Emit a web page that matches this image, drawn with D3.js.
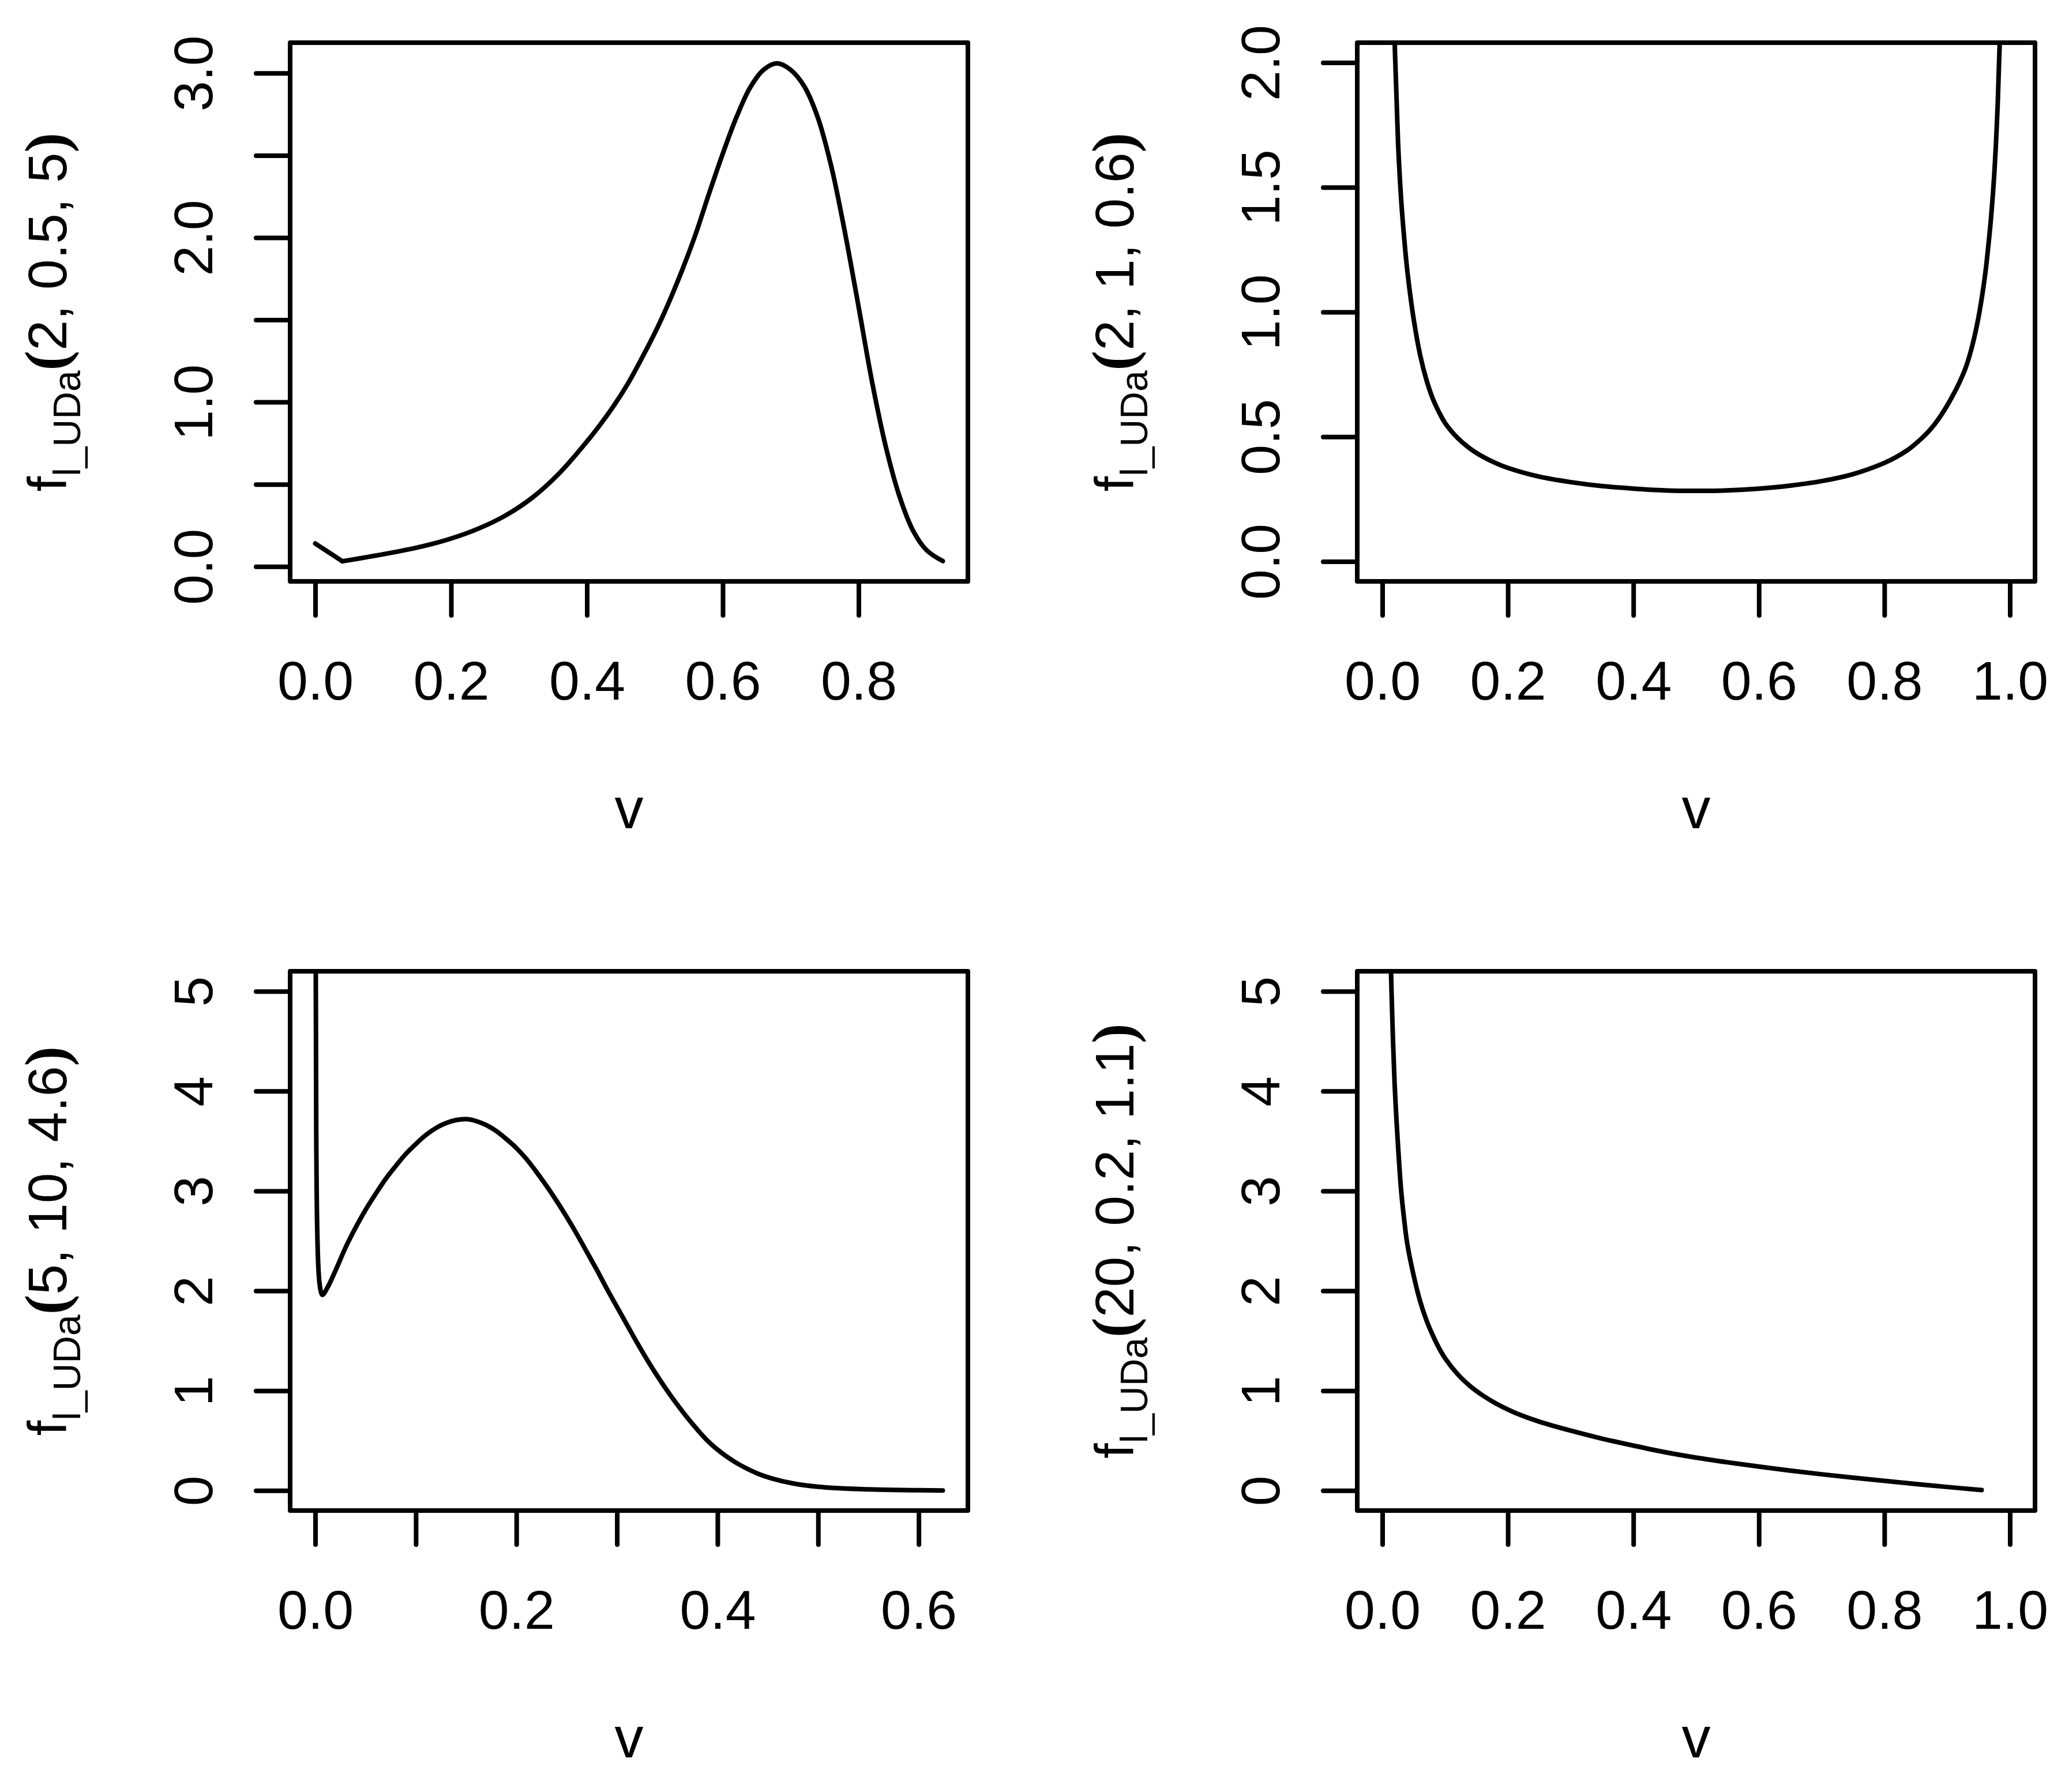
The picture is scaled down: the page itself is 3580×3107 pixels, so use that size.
<!DOCTYPE html>
<html>
<head>
<meta charset="utf-8">
<script src="https://cdn.jsdelivr.net/npm/d3@7"></script>
<style>
  html, body { margin: 0; padding: 0; background: #fff; }
  svg { display: block; }
  text { font-family: "Liberation Sans", Arial, Helvetica, sans-serif; fill: #000; }
</style>
</head>
<body>
<script>
// ---------------- data ----------------
const p1V = [0, 0.04, 0.08, 0.12, 0.16, 0.20, 0.24, 0.28, 0.32, 0.36, 0.40, 0.42, 0.44, 0.46, 0.48, 0.50, 0.52, 0.54, 0.56, 0.58, 0.60, 0.62, 0.64, 0.66, 0.68, 0.70, 0.72, 0.74, 0.76, 0.78, 0.80, 0.82, 0.84, 0.86, 0.88, 0.90, 0.924];
const p1Y = [0.14, 0.032, 0.06, 0.09, 0.125, 0.17, 0.23, 0.31, 0.42, 0.57, 0.76, 0.865, 0.98, 1.11, 1.26, 1.42, 1.60, 1.80, 2.02, 2.27, 2.51, 2.73, 2.91, 3.02, 3.06, 3.02, 2.92, 2.73, 2.43, 2.03, 1.58, 1.12, 0.73, 0.43, 0.22, 0.10, 0.033];

const p2V = [0.012, 0.016, 0.02, 0.025, 0.03, 0.035, 0.04, 0.05, 0.06, 0.07, 0.08, 0.09, 0.10, 0.12, 0.14, 0.16, 0.18, 0.20, 0.25, 0.30, 0.35, 0.40, 0.45, 0.50, 0.55, 0.60, 0.65, 0.70, 0.75, 0.80, 0.82, 0.84, 0.86, 0.87, 0.88, 0.89, 0.90, 0.91, 0.92, 0.93, 0.94, 0.95, 0.96, 0.965, 0.97, 0.975, 0.98, 0.984, 0.988];
const p2Y = [3.3, 2.55, 2.05, 1.68, 1.45, 1.29, 1.16, 0.97, 0.83, 0.73, 0.655, 0.60, 0.555, 0.495, 0.452, 0.42, 0.395, 0.375, 0.34, 0.318, 0.302, 0.292, 0.285, 0.283, 0.285, 0.292, 0.304, 0.322, 0.35, 0.395, 0.42, 0.452, 0.495, 0.52, 0.55, 0.585, 0.625, 0.67, 0.72, 0.78, 0.865, 0.98, 1.14, 1.25, 1.38, 1.55, 1.8, 2.1, 2.6];

const p3V = [0, 0.001, 0.002, 0.004, 0.007, 0.012, 0.02,
  0.03, 0.04, 0.05, 0.06, 0.07, 0.08, 0.09, 0.10, 0.11, 0.12, 0.13, 0.14, 0.15, 0.16, 0.17, 0.18, 0.19, 0.20,
  0.21, 0.22, 0.23, 0.24, 0.25, 0.26, 0.27, 0.28, 0.29, 0.30, 0.31, 0.32, 0.33, 0.34, 0.35, 0.36, 0.37, 0.38, 0.39, 0.40,
  0.42, 0.44, 0.46, 0.48, 0.50, 0.55, 0.60, 0.624];
const p3Y = [7, 3.6, 2.6, 2.1, 1.96, 2.03, 2.2,
  2.43, 2.63, 2.81, 2.97, 3.12, 3.25, 3.37, 3.47, 3.56, 3.63, 3.68, 3.71, 3.72, 3.70, 3.66, 3.60, 3.52, 3.43,
  3.32, 3.19, 3.05, 2.90, 2.74, 2.57, 2.39, 2.21, 2.02, 1.84, 1.66, 1.48, 1.31, 1.15, 1.0, 0.86, 0.73, 0.61, 0.50, 0.41,
  0.27, 0.17, 0.105, 0.063, 0.038, 0.012, 0.003, 0.001];

const p4V = [0.012, 0.0138, 0.0165, 0.0195, 0.022, 0.025, 0.03, 0.035, 0.04, 0.05, 0.06, 0.07, 0.08, 0.09, 0.10, 0.12, 0.14, 0.16, 0.18, 0.20, 0.22, 0.25, 0.30, 0.35, 0.40, 0.45, 0.50, 0.55, 0.60, 0.65, 0.70, 0.75, 0.80, 0.85, 0.90, 0.955];
const p4Y = [5.8, 5.2, 4.6, 4.08, 3.77, 3.45, 3.0, 2.7, 2.46, 2.15, 1.9, 1.71, 1.56, 1.43, 1.325, 1.165, 1.045, 0.952, 0.876, 0.812, 0.757, 0.69, 0.60, 0.52, 0.45, 0.385, 0.33, 0.283, 0.24, 0.20, 0.163, 0.129, 0.097, 0.066, 0.036, 0.005];

// data ranges (xlim / ylim before R's 4% extension)
const xRanges = [[0, 0.924], [0, 1], [0, 0.624], [0, 1]];
const yRanges = [[0.031, 3.064], [0, 2], [0, 5], [0, 5]];

// ticks and tick labels
const xTicks1 = [0, 0.2, 0.4, 0.6, 0.8];
const xTicks2 = [0, 0.2, 0.4, 0.6, 0.8, 1.0];
const xTicks3 = [0, 0.1, 0.2, 0.3, 0.4, 0.5, 0.6];
const xTickLabels1 = ["0.0", "0.2", "0.4", "0.6", "0.8"];
const xTickLabels2 = ["0.0", "0.2", "0.4", "0.6", "0.8", "1.0"];
const xTickLabels3 = ["0.0", "", "0.2", "", "0.4", "", "0.6"];
const yTicks1 = [0, 0.5, 1.0, 1.5, 2.0, 2.5, 3.0];
const yTickLabels1 = ["0.0", "", "1.0", "", "2.0", "", "3.0"];
const yTicks2 = [0, 0.5, 1.0, 1.5, 2.0];
const yTickLabels2 = ["0.0", "0.5", "1.0", "1.5", "2.0"];
const yTicks3 = [0, 1, 2, 3, 4, 5];
const yTickLabels3 = ["0", "1", "2", "3", "4", "5"];

// axis titles
const xTitle = "v";
const yFunc = "f";
const ySub = "l_UDa";
const yArgs = ["2, 0.5, 5", "2, 1, 0.6", "5, 10, 4.6", "20, 0.2, 1.1"];

// ---------------- layout ----------------
const W = 3580, H = 3107;
const boxes = [
  {l: 503, r: 1678, t: 74, b: 1008},
  {l: 2353, r: 3528, t: 74, b: 1008},
  {l: 503, r: 1678, t: 1684, b: 2619},
  {l: 2353, r: 3528, t: 1684, b: 2619}
];
const panels = [
  {v: p1V, y: p1Y, xt: xTicks1, xl: xTickLabels1, yt: yTicks1, yl: yTickLabels1, kinkFirst: true, curve: d3.curveCatmullRom.alpha(0.5)},
  {v: p2V, y: p2Y, xt: xTicks2, xl: xTickLabels2, yt: yTicks2, yl: yTickLabels2, curve: d3.curveCatmullRom.alpha(0.5)},
  {v: p3V, y: p3Y, xt: xTicks3, xl: xTickLabels3, yt: yTicks3, yl: yTickLabels3, curve: d3.curveMonotoneX},
  {v: p4V, y: p4Y, xt: xTicks2, xl: xTickLabels2, yt: yTicks3, yl: yTickLabels3, curve: d3.curveCatmullRom.alpha(0.5)}
];

const LW = 8, FS = 95, TICK = 59;

const svg = d3.select("body").append("svg")
  .attr("width", W).attr("height", H)
  .attr("viewBox", `0 0 ${W} ${H}`);
svg.append("rect").attr("width", W).attr("height", H).attr("fill", "#fff");

const ext = r => { const d = r[1] - r[0]; return [r[0] - 0.04 * d, r[1] + 0.04 * d]; };

panels.forEach((p, i) => {
  const bx = boxes[i];
  const x = d3.scaleLinear().domain(ext(xRanges[i])).range([bx.l, bx.r]);
  const y = d3.scaleLinear().domain(ext(yRanges[i])).range([bx.b, bx.t]);
  const g = svg.append("g");

  // clip for curve
  const cid = "clip" + i;
  svg.append("clipPath").attr("id", cid).append("rect")
    .attr("x", bx.l).attr("y", bx.t).attr("width", bx.r - bx.l).attr("height", bx.b - bx.t);

  const pts = p.v.map((v, k) => [v, p.y[k]]);
  const lineSmooth = d3.line().x(d => x(d[0])).y(d => y(d[1])).curve(p.curve);
  const lineStraight = d3.line().x(d => x(d[0])).y(d => y(d[1]));
  const cg = g.append("g").attr("clip-path", `url(#${cid})`)
    .attr("fill", "none").attr("stroke", "#000").attr("stroke-width", LW)
    .attr("stroke-linecap", "round").attr("stroke-linejoin", "round");
  if (p.kinkFirst) {
    cg.append("path").attr("d", lineStraight(pts.slice(0, 2)));
    cg.append("path").attr("d", lineSmooth(pts.slice(1)));
  } else {
    cg.append("path").attr("d", lineSmooth(pts));
  }

  // box
  g.append("rect").attr("x", bx.l).attr("y", bx.t)
    .attr("width", bx.r - bx.l).attr("height", bx.b - bx.t)
    .attr("fill", "none").attr("stroke", "#000").attr("stroke-width", LW)
    .attr("stroke-linejoin", "round");

  // x axis
  const xa = g.append("g").attr("transform", `translate(0,${bx.b})`)
    .call(d3.axisBottom(x).tickValues(p.xt).tickSize(TICK)
      .tickFormat((d, k) => p.xl[k]));
  xa.select(".domain").remove();
  xa.selectAll(".tick line").attr("stroke", "#000").attr("stroke-width", LW).attr("stroke-linecap", "round");
  xa.selectAll(".tick text").attr("y", 205).attr("dy", null)
    .attr("font-size", FS).attr("fill", "#000")
    .style("font-family", '"Liberation Sans", Arial, sans-serif');

  // y axis
  const ya = g.append("g").attr("transform", `translate(${bx.l},0)`)
    .call(d3.axisLeft(y).tickValues(p.yt).tickSize(TICK)
      .tickFormat((d, k) => p.yl[k]));
  ya.select(".domain").remove();
  ya.selectAll(".tick line").attr("stroke", "#000").attr("stroke-width", LW).attr("stroke-linecap", "round");
  ya.selectAll(".tick text").attr("x", null).attr("dy", null)
    .attr("transform", "translate(-135,0) rotate(-90)")
    .attr("text-anchor", "middle")
    .attr("font-size", FS).attr("fill", "#000")
    .style("font-family", '"Liberation Sans", Arial, sans-serif');

  // x title
  g.append("text").attr("x", (bx.l + bx.r) / 2).attr("y", bx.b + 428)
    .attr("text-anchor", "middle").attr("font-size", 100).text(xTitle);

  // y title: f_{l_UDa}(args)
  const yt = g.append("text")
    .attr("transform", `translate(${bx.l - 388},${(bx.t + bx.b) / 2}) rotate(-90)`)
    .attr("text-anchor", "middle").attr("font-size", FS);
  yt.append("tspan").text(yFunc);
  yt.append("tspan").attr("font-size", 66).attr("dy", 24).text(ySub);
  yt.append("tspan").attr("dy", -24)
    .style("font-family", '"Liberation Serif", "Times New Roman", serif')
    .attr("font-weight", "bold").attr("font-size", 104).text("(");
  yt.append("tspan").text(yArgs[i]);
  yt.append("tspan")
    .style("font-family", '"Liberation Serif", "Times New Roman", serif')
    .attr("font-weight", "bold").attr("font-size", 104).text(")");
});
</script>
</body>
</html>
